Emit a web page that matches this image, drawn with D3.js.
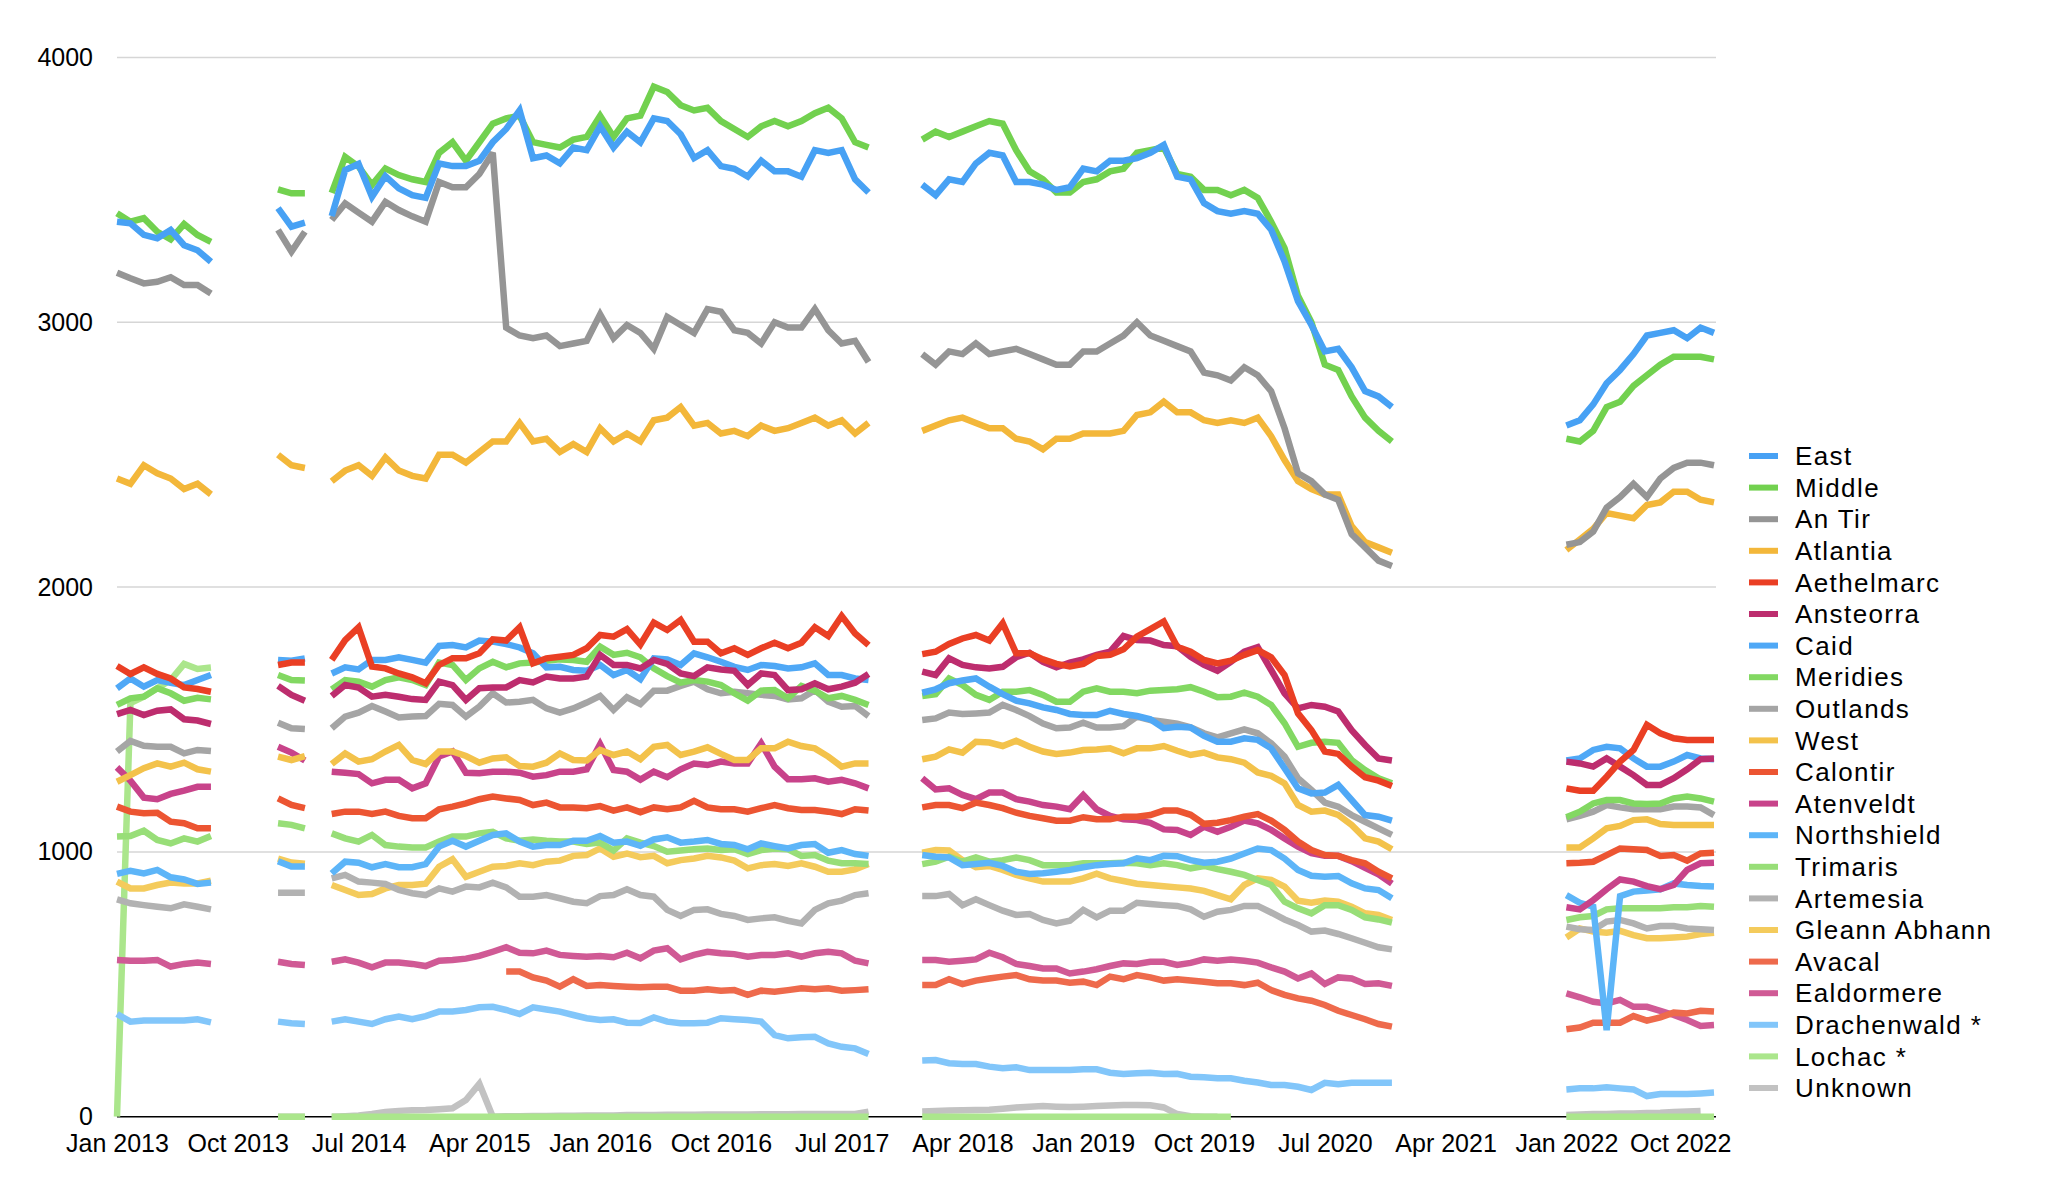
<!DOCTYPE html>
<html>
<head>
<meta charset="utf-8">
<script src="https://cdn.jsdelivr.net/npm/d3@7"></script>
<style>
  body { margin: 0; background: #fff; }
  svg { display: block; }
  text { font-family: "Liberation Sans", Arial, Helvetica, sans-serif; fill: #000; }
</style>
</head>
<body>
<svg class="chart"></svg>
<script>
const size = {w: 2048, h: 1193};

// months that have data: Jan-Aug 2013, Jan-Mar 2014, May 2014-Sep 2017, Jan 2018-Dec 2020, 2022
const segments = [[0, 7], [12, 14], [16, 56], [60, 95], [108, 119]];

const tickLabels = ['Jan 2013', 'Oct 2013', 'Jul 2014', 'Apr 2015', 'Jan 2016', 'Oct 2016', 'Jul 2017',
  'Apr 2018', 'Jan 2019', 'Oct 2019', 'Jul 2020', 'Apr 2021', 'Jan 2022', 'Oct 2022'];
const yTicks = [0, 1000, 2000, 3000, 4000];

const names = ['East', 'Middle', 'An Tir', 'Atlantia', 'Aethelmarc', 'Ansteorra', 'Caid', 'Meridies',
  'Outlands', 'West', 'Calontir', 'Atenveldt', 'Northshield', 'Trimaris', 'Artemesia', 'Gleann Abhann',
  'Avacal', 'Ealdormere', 'Drachenwald *', 'Lochac *', 'Unknown'];

const colors = ['#47a1f4', '#72d14f', '#959595', '#f3b73a', '#ea3f24', '#bd2d6e', '#4fa8f6', '#82d862',
  '#a5a5a5', '#f3c24b', '#ec5532', '#c8438a', '#5db5f8', '#98de78', '#b2b2b2', '#f4cb5c',
  '#ee6a4c', '#d05a95', '#82c6fa', '#abe68c', '#c2c2c2'];

// values per series, in the order of the data months (8 | 3 | 41 | 36 | 12)
const East = [
  3380, 3374, 3330, 3317, 3349, 3291, 3272, 3229,
  3431, 3361, 3376,
  3401, 3575, 3598, 3474, 3552, 3506, 3480, 3470, 3600, 3590, 3590, 3610, 3680, 3730, 3800, 3620, 3630, 3600, 3660, 3650, 3740, 3660, 3720, 3680, 3770, 3760, 3710, 3620, 3650, 3590, 3580, 3550, 3610, 3570, 3570, 3550, 3650, 3640, 3650, 3540, 3490,
  3520, 3480, 3540, 3530, 3600, 3640, 3630, 3530, 3530, 3520, 3500, 3510, 3580, 3570, 3610, 3610, 3620, 3640, 3670, 3550, 3540, 3450, 3420, 3410, 3420, 3410, 3350, 3230, 3080, 2990, 2890, 2900, 2830, 2740, 2720, 2680,
  2610, 2630, 2690, 2770, 2820, 2880, 2950, 2960, 2970, 2940, 2980, 2960];
const Middle = [
  3412, 3380, 3393, 3342, 3313, 3371, 3330, 3304,
  3502, 3487, 3487,
  3489, 3625, 3588, 3519, 3581, 3556, 3540, 3530, 3640, 3680, 3610, 3680, 3750, 3770, 3780, 3680, 3670, 3660, 3690, 3700, 3780, 3700, 3770, 3780, 3890, 3870, 3820, 3800, 3810, 3760, 3730, 3700, 3740, 3760, 3740, 3760, 3790, 3810, 3770, 3680, 3660,
  3690, 3720, 3700, 3720, 3740, 3760, 3750, 3650, 3570, 3540, 3490, 3490, 3530, 3540, 3570, 3580, 3640, 3650, 3660, 3560, 3550, 3500, 3500, 3480, 3500, 3470, 3380, 3280, 3100, 3000, 2840, 2820, 2720, 2640, 2590, 2550,
  2560, 2550, 2590, 2680, 2700, 2760, 2800, 2840, 2870, 2870, 2870, 2860];
const AnTir = [
  3187, 3166, 3147, 3153, 3170, 3141, 3141, 3109,
  3349, 3267, 3342,
  3386, 3449, 3414, 3380, 3455, 3424, 3400, 3380, 3530, 3510, 3510, 3560, 3640, 2980, 2950, 2940, 2950, 2910, 2920, 2930, 3030, 2940, 2990, 2960, 2900, 3020, 2990, 2960, 3050, 3040, 2970, 2960, 2920, 3000, 2980, 2980, 3050, 2970, 2920, 2930, 2850,
  2880, 2840, 2890, 2880, 2920, 2880, 2890, 2900, 2880, 2860, 2840, 2840, 2890, 2890, 2920, 2950, 3000, 2950, 2930, 2910, 2890, 2810, 2800, 2780, 2830, 2800, 2740, 2600, 2430, 2400, 2350, 2330, 2200, 2150, 2100, 2080,
  2160, 2170, 2210, 2300, 2340, 2390, 2340, 2410, 2450, 2470, 2470, 2460];
const Atlantia = [
  2410, 2390, 2460, 2430, 2410, 2370, 2390, 2350,
  2500, 2460, 2450,
  2400, 2440, 2460, 2420, 2490, 2440, 2420, 2410, 2500, 2500, 2470, 2510, 2550, 2550, 2620, 2550, 2560, 2510, 2540, 2510, 2600, 2550, 2580, 2550, 2630, 2640, 2680, 2610, 2620, 2580, 2590, 2570, 2610, 2590, 2600, 2620, 2640, 2610, 2630, 2580, 2620,
  2590, 2610, 2630, 2640, 2620, 2600, 2600, 2560, 2550, 2520, 2560, 2560, 2580, 2580, 2580, 2590, 2650, 2660, 2700, 2660, 2660, 2630, 2620, 2630, 2620, 2640, 2570, 2480, 2400, 2370, 2350, 2350, 2230, 2170, 2150, 2130,
  2140, 2180, 2220, 2280, 2270, 2260, 2310, 2320, 2360, 2360, 2330, 2320];
const Aethelmarc = [
  1702, 1672, 1697, 1672, 1655, 1621, 1615, 1605,
  1706, 1715, 1715,
  1725, 1800, 1848, 1700, 1693, 1674, 1659, 1637, 1706, 1731, 1731, 1750, 1803, 1798, 1848, 1712, 1731, 1737, 1744, 1769, 1819, 1813, 1841, 1783, 1866, 1838, 1876, 1794, 1794, 1750, 1769, 1744, 1769, 1790, 1769, 1790, 1848, 1815, 1891, 1825, 1781,
  1747, 1756, 1785, 1806, 1819, 1798, 1863, 1750, 1750, 1727, 1710, 1700, 1710, 1740, 1744, 1765, 1813, 1841, 1870, 1775, 1756, 1725, 1712, 1722, 1744, 1762, 1735, 1668, 1523, 1460, 1379, 1370, 1322, 1282, 1269, 1249,
  1240, 1231, 1231, 1284, 1341, 1385, 1480, 1448, 1429, 1423, 1423, 1423];
const Ansteorra = [
  1520, 1536, 1517, 1533, 1538, 1501, 1496, 1483,
  1627, 1593, 1571,
  1589, 1630, 1621, 1586, 1593, 1586, 1577, 1574, 1643, 1630, 1574, 1618, 1621, 1621, 1649, 1640, 1662, 1655, 1655, 1662, 1744, 1706, 1706, 1693, 1725, 1710, 1674, 1664, 1697, 1689, 1684, 1630, 1674, 1668, 1611, 1614, 1637, 1614, 1624, 1639, 1672,
  1681, 1668, 1731, 1706, 1697, 1693, 1699, 1735, 1752, 1718, 1697, 1715, 1727, 1744, 1756, 1815, 1800, 1798, 1781, 1777, 1737, 1706, 1684, 1718, 1756, 1773, 1687, 1599, 1542, 1555, 1548, 1530, 1460, 1404, 1353, 1345,
  1341, 1334, 1322, 1353, 1322, 1290, 1253, 1253, 1278, 1312, 1350, 1353];
const Caid = [
  1618, 1655, 1624, 1649, 1639, 1630, 1649, 1668,
  1725, 1722, 1731,
  1674, 1697, 1689, 1725, 1725, 1735, 1725, 1715, 1778, 1781, 1772, 1798, 1794, 1785, 1772, 1750, 1697, 1699, 1687, 1684, 1706, 1668, 1687, 1652, 1731, 1727, 1706, 1750, 1735, 1718, 1699, 1687, 1706, 1702, 1693, 1697, 1712, 1668, 1668, 1655, 1649,
  1601, 1614, 1637, 1647, 1655, 1624, 1596, 1571, 1561, 1546, 1536, 1521, 1517, 1517, 1533, 1521, 1513, 1501, 1467, 1473, 1470, 1438, 1416, 1416, 1429, 1423, 1391, 1316, 1240, 1221, 1224, 1253, 1196, 1139, 1133, 1118,
  1345, 1353, 1385, 1397, 1391, 1353, 1322, 1322, 1341, 1366, 1353, 1350];
const Meridies = [
  1555, 1580, 1586, 1618, 1599, 1571, 1582, 1576,
  1668, 1649, 1647,
  1614, 1649, 1643, 1624, 1649, 1659, 1649, 1630, 1715, 1706, 1649, 1693, 1718, 1697, 1712, 1715, 1722, 1727, 1725, 1718, 1775, 1744, 1752, 1735, 1693, 1664, 1639, 1649, 1643, 1630, 1599, 1571, 1609, 1611, 1580, 1627, 1609, 1580, 1589, 1574, 1555,
  1589, 1596, 1655, 1630, 1593, 1574, 1605, 1605, 1611, 1593, 1567, 1567, 1605, 1618, 1605, 1605, 1599, 1609, 1611, 1614, 1622, 1605, 1584, 1586, 1601, 1586, 1555, 1486, 1397, 1412, 1416, 1412, 1347, 1309, 1278, 1259,
  1131, 1152, 1183, 1196, 1196, 1183, 1181, 1183, 1202, 1209, 1202, 1190];
const Outlands = [
  1379, 1419, 1401, 1397, 1397, 1372, 1385, 1381,
  1488, 1467, 1464,
  1467, 1511, 1526, 1551, 1530, 1508, 1511, 1513, 1559, 1555, 1511, 1549, 1599, 1564, 1567, 1574, 1542, 1526, 1542, 1564, 1589, 1536, 1584, 1558, 1609, 1609, 1627, 1643, 1614, 1599, 1605, 1599, 1593, 1589, 1576, 1580, 1611, 1567, 1548, 1551, 1513,
  1498, 1504, 1526, 1521, 1523, 1526, 1555, 1536, 1513, 1485, 1467, 1470, 1488, 1470, 1470, 1475, 1511, 1498, 1492, 1484, 1470, 1448, 1433, 1448, 1463, 1448, 1410, 1360, 1278, 1234, 1186, 1171, 1139, 1114, 1089, 1064,
  1123, 1136, 1152, 1177, 1168, 1161, 1161, 1161, 1171, 1171, 1168, 1139];
const West = [
  1265, 1290, 1316, 1334, 1322, 1337, 1312, 1303,
  1360, 1347, 1362,
  1332, 1372, 1341, 1350, 1379, 1404, 1347, 1332, 1379, 1379, 1362, 1337, 1353, 1357, 1324, 1322, 1337, 1372, 1347, 1345, 1385, 1366, 1379, 1350, 1397, 1404, 1366, 1379, 1395, 1370, 1347, 1347, 1391, 1391, 1416, 1400, 1391, 1360, 1322, 1334, 1334,
  1350, 1360, 1387, 1375, 1416, 1413, 1400, 1420, 1397, 1379, 1370, 1375, 1385, 1387, 1391, 1372, 1391, 1391, 1400, 1382, 1366, 1375, 1357, 1350, 1337, 1300, 1287, 1259, 1177, 1152, 1156, 1140, 1102, 1051, 1039, 1010,
  1017, 1017, 1051, 1089, 1098, 1120, 1123, 1105, 1102, 1102, 1102, 1102];
const Calontir = [
  1171, 1152, 1146, 1148, 1114, 1108, 1089, 1089,
  1202, 1177, 1165,
  1143, 1152, 1152, 1143, 1152, 1136, 1127, 1127, 1161, 1171, 1183, 1199, 1209, 1202, 1196, 1177, 1186, 1168, 1168, 1165, 1173, 1156, 1168, 1150, 1168, 1161, 1168, 1193, 1168, 1161, 1161, 1152, 1165, 1177, 1165, 1158, 1158, 1152, 1143, 1161, 1156,
  1168, 1177, 1177, 1165, 1186, 1177, 1165, 1148, 1136, 1127, 1118, 1118, 1131, 1123, 1123, 1133, 1133, 1139, 1156, 1156, 1140, 1106, 1110, 1120, 1133, 1143, 1118, 1083, 1039, 1007, 988, 985, 969, 957, 925, 900,
  957, 959, 963, 988, 1013, 1010, 1007, 985, 988, 967, 994, 997];
const Atenveldt = [
  1319, 1269, 1205, 1199, 1219, 1231, 1246, 1246,
  1397, 1375, 1345,
  1303, 1299, 1294, 1259, 1272, 1272, 1240, 1259, 1360, 1379, 1299, 1297, 1303, 1303, 1299, 1284, 1290, 1303, 1303, 1312, 1407, 1309, 1303, 1273, 1303, 1282, 1312, 1334, 1328, 1341, 1334, 1334, 1410, 1322, 1274, 1274, 1278, 1265, 1272, 1259, 1240,
  1278, 1236, 1240, 1215, 1199, 1224, 1224, 1199, 1190, 1177, 1171, 1161, 1215, 1161, 1136, 1123, 1120, 1110, 1085, 1083, 1064, 1095, 1076, 1095, 1118, 1108, 1083, 1051, 1020, 995, 985, 985, 965, 940, 915, 880,
  791, 783, 818, 859, 896, 888, 871, 859, 875, 932, 957, 959];
const Northshield = [
  917, 929, 919, 932, 904, 896, 879, 884,
  965, 945, 945,
  919, 963, 959, 942, 954, 942, 942, 954, 1020, 1042, 1020, 1042, 1064, 1070, 1039, 1020, 1026, 1026, 1042, 1042, 1060, 1035, 1039, 1023, 1047, 1055, 1035, 1039, 1045, 1030, 1026, 1010, 1032, 1022, 1013, 1026, 1030, 997, 1007, 992, 985,
  988, 982, 979, 950, 954, 959, 947, 925, 917, 919, 925, 932, 942, 950, 954, 957, 976, 969, 985, 984, 969, 959, 963, 975, 994, 1013, 1007, 975, 932, 910, 906, 909, 881, 862, 856, 825,
  837, 808, 793, 327, 833, 850, 854, 859, 881, 875, 871, 869];
const Trimaris = [
  1058, 1060, 1080, 1045, 1032, 1051, 1039, 1060,
  1108, 1102, 1089,
  1070, 1051, 1039, 1064, 1026, 1020, 1017, 1017, 1039, 1058, 1058, 1070, 1076, 1051, 1042, 1047, 1042, 1039, 1039, 1030, 1035, 1005, 1051, 1035, 1022, 1001, 1005, 1010, 1013, 1007, 1010, 992, 1007, 1013, 1010, 985, 988, 967, 957, 957, 954,
  954, 963, 982, 963, 979, 963, 969, 979, 969, 950, 950, 950, 957, 957, 957, 959, 957, 950, 957, 950, 938, 947, 935, 925, 913, 894, 875, 812, 787, 768, 799, 799, 781, 753, 745, 733,
  743, 753, 758, 783, 787, 787, 787, 787, 791, 791, 796, 793];
const Artemesia = [
  821, 806, 799, 793, 787, 802, 793, 783,
  846, 846, 846,
  900, 913, 888, 884, 879, 856, 844, 837, 862, 850, 869, 866, 884, 866, 831, 831, 837, 825, 812, 806, 833, 837, 859, 837, 831, 781, 758, 781, 783, 766, 758, 743, 749, 753, 740, 730, 781, 806, 816, 837, 844,
  833, 833, 841, 799, 821, 799, 778, 762, 765, 743, 730, 740, 781, 753, 778, 778, 808, 803, 799, 796, 783, 755, 774, 781, 796, 796, 771, 745, 724, 699, 703, 690, 674, 657, 640, 632,
  718, 708, 705, 737, 743, 730, 711, 720, 720, 711, 708, 705];
const GleannAbhann = [
  888, 862, 862, 875, 884, 881, 881, 891,
  975, 960, 955,
  875, 856, 837, 841, 862, 875, 875, 880, 944, 972, 906, 925, 944, 947, 957, 950, 963, 967, 985, 988, 1013, 982, 994, 980, 985, 957, 969, 975, 985, 979, 967, 938, 950, 954, 947, 957, 944, 925, 925, 934, 954,
  997, 1007, 1005, 969, 942, 947, 932, 913, 900, 888, 888, 888, 900, 918, 900, 890, 880, 875, 870, 866, 862, 853, 837, 821, 875, 900, 894, 869, 816, 808, 816, 812, 793, 768, 762, 743,
  677, 711, 699, 695, 702, 686, 674, 674, 677, 680, 690, 695];
const Avacal = [
  null, null, null, null, null, null, null, null,
  null, null, null,
  null, null, null, null, null, null, null, null, null, null, null, null, null, 548, 548, 526, 514, 491, 519, 494, 497, 494, 491, 489, 491, 491, 476, 476, 481, 476, 478, 460, 476, 472, 478, 485, 481, 485, 476, 478, 481,
  497, 497, 519, 501, 514, 522, 529, 535, 519, 514, 514, 506, 510, 497, 529, 519, 535, 526, 514, 519, 514, 510, 504, 504, 497, 506, 478, 460, 447, 438, 422, 400, 384, 368, 350, 340,
  330, 337, 355, 355, 355, 380, 363, 375, 393, 390, 400, 397];
const Ealdormere = [
  592, 589, 589, 592, 567, 577, 582, 577,
  585, 577, 573,
  585, 594, 582, 564, 582, 582, 577, 569, 589, 592, 597, 607, 623, 640, 619, 617, 627, 611, 607, 604, 607, 602, 619, 598, 627, 636, 594, 611, 623, 617, 614, 604, 611, 611, 617, 604, 617, 623, 617, 589, 579,
  592, 592, 585, 589, 594, 619, 602, 577, 569, 560, 560, 541, 548, 557, 569, 579, 577, 585, 585, 573, 581, 594, 589, 594, 589, 582, 564, 548, 522, 541, 501, 526, 522, 501, 504, 494,
  466, 451, 434, 428, 441, 415, 415, 400, 384, 365, 343, 346];
const Drachenwald = [
  388, 359, 363, 363, 363, 363, 368, 356,
  359, 353, 350,
  359, 368, 359, 350, 368, 378, 368, 380, 397, 397, 403, 413, 415, 403, 388, 413, 405, 397, 384, 372, 365, 368, 355, 354, 375, 359, 353, 353, 355, 372, 368, 365, 359, 308, 296, 300, 302, 277, 264, 258, 237,
  212, 214, 202, 199, 199, 189, 183, 187, 176, 176, 176, 176, 179, 179, 166, 161, 164, 166, 161, 162, 151, 149, 145, 145, 136, 129, 120, 120, 113, 101, 128, 123, 128, 128, 128, 128,
  103, 107, 107, 111, 107, 103, 78, 86, 86, 86, 88, 91];
const Lochac = [
  0, 1562, 1586, 1618, 1649, 1710, 1691, 1696,
  0, 0, 0,
  0, 0, 0, 0, 0, 0, 0, 0, 0, 0, 0, 0, 0, 0, 0, 0, 0, 0, 0, 0, 0, 0, 0, 0, 0, 0, 0, 0, 0, 0, 0, 0, 0, 0, 0, 0, 0, 0, 0, 0, 0,
  0, 0, 0, 0, 0, 0, 0, 0, 0, 0, 0, 0, 0, 0, 0, 0, 0, 0, 0, 0, 0, 0, 0, 0, null, null, null, null, null, null, null, null, null, null, null, null,
  0, 0, 0, 0, 0, 0, 0, 0, 0, 0, 0, 0];
const Unknown = [
  null, null, null, null, null, null, null, null,
  0, 0, 0,
  0, 2, 5, 10, 18, 22, 24, 25, 28, 32, 63, 124, 0, 2, 2, 3, 3, 4, 4, 5, 5, 5, 6, 6, 6, 7, 7, 7, 8, 8, 8, 8, 9, 9, 9, 10, 10, 10, 10, 10,
  19, 20, 22, 23, 24, 25, 26, 30, 35, 38, 40, 38, 37, 38, 40, 42, 44, 44, 43, 35, 10, 2, 0, 0, null, null, null, null, null, null, null, null, null, null, null, null,
  5, 6, 8, 10, 10, 12, 12, 14, 15, 18, 20, 22];

const seriesValues = [East, Middle, AnTir, Atlantia, Aethelmarc, Ansteorra, Caid, Meridies, Outlands, West,
  Calontir, Atenveldt, Northshield, Trimaris, Artemesia, GleannAbhann, Avacal, Ealdormere, Drachenwald, Lochac, Unknown];

// all 120 month labels, Jan 2013 .. Dec 2022
const months = d3.timeMonth.range(new Date(2013, 0, 1), new Date(2023, 0, 1)).map(d3.timeFormat('%b %Y'));

// month positions that carry data
let dataIdx = [];
segments.forEach(s => { for (let i = s[0]; i <= s[1]; i++) dataIdx.push(i); });

const svg = d3.select('svg.chart').attr('width', size.w).attr('height', size.h);

const x = d3.scalePoint().domain(months).range([117, 1714]);
const y = d3.scaleLinear().domain([0, 4000]).range([1116.7, 57.5]);

// gridlines
svg.append('g').selectAll('line')
  .data(yTicks.filter(d => d > 0))
  .join('line')
  .attr('x1', 117).attr('x2', 1716)
  .attr('y1', d => y(d)).attr('y2', d => y(d))
  .attr('stroke', '#d6d6d6').attr('stroke-width', 1.5);

// baseline
svg.append('line')
  .attr('x1', 117).attr('x2', 1716)
  .attr('y1', y(0)).attr('y2', y(0))
  .attr('stroke', '#000').attr('stroke-width', 1.5);

// y axis labels
const yAxis = d3.axisLeft(y).tickValues(yTicks).tickSize(0).tickPadding(0).tickFormat(d3.format('d'));
svg.append('g').attr('transform', 'translate(93,0)').call(yAxis)
  .call(g => g.select('.domain').remove())
  .selectAll('text')
  .attr('font-size', 25).attr('font-family', '"Liberation Sans", Arial, sans-serif').attr('fill', '#000');

// x axis labels
const xAxis = d3.axisBottom(x).tickValues(tickLabels).tickSize(0).tickPadding(0);
svg.append('g').attr('transform', 'translate(0,1134)').call(xAxis)
  .call(g => g.select('.domain').remove())
  .selectAll('text')
  .attr('font-size', 25).attr('font-family', '"Liberation Sans", Arial, sans-serif').attr('fill', '#000')
  .attr('dx', d => d === 'Oct 2022' ? -7 : 0);

// build full month arrays with gaps
const series = names.map((name, k) => {
  const full = months.map(m => ({m: m, v: null}));
  dataIdx.forEach((mi, j) => { full[mi].v = seriesValues[k][j]; });
  return {name: name, color: colors[k], points: full};
});

const line = d3.line()
  .defined(d => d.v !== null && d.v !== undefined)
  .x(d => x(d.m))
  .y(d => y(d.v));

// later series are drawn first, East ends on top
svg.append('g').selectAll('path')
  .data(series.slice().reverse())
  .join('path')
  .attr('d', d => line(d.points))
  .attr('fill', 'none')
  .attr('stroke', d => d.color)
  .attr('stroke-width', 6.5)
  .attr('stroke-linejoin', 'miter')
  .attr('stroke-miterlimit', 3);

// legend
const legend = svg.append('g').selectAll('g')
  .data(series)
  .join('g')
  .attr('transform', (d, i) => `translate(0,${456 + i * 31.6})`);

legend.append('line')
  .attr('x1', 1749).attr('x2', 1778)
  .attr('stroke', d => d.color).attr('stroke-width', 6);

legend.append('text')
  .attr('x', 1795).attr('dy', '0.35em')
  .attr('font-size', 26).attr('letter-spacing', 1.4)
  .text(d => d.name);
</script>
</body>
</html>
